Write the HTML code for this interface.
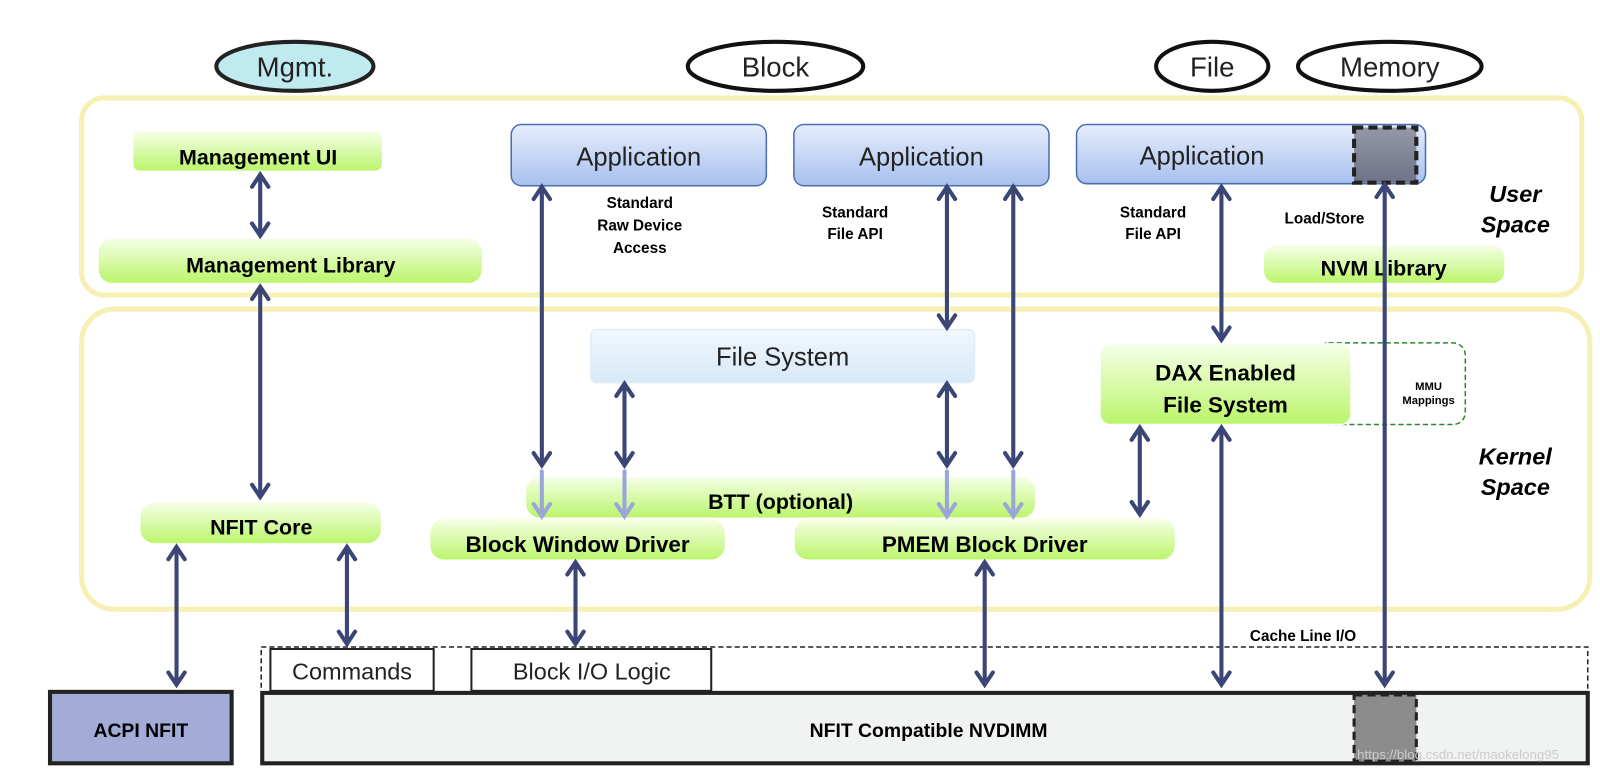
<!DOCTYPE html>
<html><head><meta charset="utf-8"><style>
html,body{margin:0;padding:0;background:#fff;width:1600px;height:773px;overflow:hidden}
svg{display:block}
text{font-family:"Liberation Sans",sans-serif}
.b{font-weight:bold;fill:#000}
</style></head><body>
<svg width="1600" height="773" viewBox="0 0 1568 757.5" preserveAspectRatio="none" xmlns="http://www.w3.org/2000/svg">
<defs>
<linearGradient id="g" x1="0" y1="0" x2="0" y2="1"><stop offset="0" stop-color="#f6ffe8"/><stop offset="1" stop-color="#baf56a"/></linearGradient>
<linearGradient id="bl" x1="0" y1="0" x2="0" y2="1"><stop offset="0" stop-color="#e6eefc"/><stop offset="1" stop-color="#a8c0ee"/></linearGradient>
<linearGradient id="fs" x1="0" y1="0" x2="0" y2="1"><stop offset="0" stop-color="#f2f8fd"/><stop offset="1" stop-color="#d6e8f7"/></linearGradient>
<linearGradient id="dk" x1="0" y1="0" x2="0" y2="1"><stop offset="0" stop-color="#9598a6"/><stop offset="1" stop-color="#6e7388"/></linearGradient>
</defs>
<ellipse cx="289" cy="65" rx="77" ry="24" fill="#bfeaf0" stroke="#222" stroke-width="4"/>
<text x="289" y="75" font-size="27" text-anchor="middle" fill="#222">Mgmt.</text>
<ellipse cx="760" cy="65" rx="86" ry="24" fill="#fff" stroke="#111" stroke-width="4"/>
<text x="760" y="75" font-size="27" text-anchor="middle" fill="#222">Block</text>
<ellipse cx="1188" cy="65" rx="55" ry="24" fill="#fff" stroke="#111" stroke-width="4"/>
<text x="1188" y="75" font-size="27" text-anchor="middle" fill="#222">File</text>
<ellipse cx="1362" cy="65" rx="90" ry="24" fill="#fff" stroke="#111" stroke-width="4"/>
<text x="1362" y="75" font-size="27" text-anchor="middle" fill="#222">Memory</text>
<rect x="80" y="96" width="1470" height="193" rx="22" fill="none" stroke="#f7f0b4" stroke-width="5"/>
<rect x="80" y="303" width="1478" height="294" rx="32" fill="none" stroke="#f7f0b4" stroke-width="5"/>
<rect x="130" y="128" width="245" height="40" rx="7" fill="url(#g)" stroke="#fff" stroke-width="1.5"/>
<text x="253" y="161" font-size="21" text-anchor="middle" class="b">Management UI</text>
<rect x="96" y="233" width="377" height="45" rx="14" fill="url(#g)" stroke="#fff" stroke-width="1.5"/>
<text x="285" y="267" font-size="21" text-anchor="middle" class="b">Management Library</text>
<rect x="501" y="122" width="250" height="60" rx="10" fill="url(#bl)" stroke="#4a6fb0" stroke-width="1.5"/>
<text x="626" y="162" font-size="25" text-anchor="middle" fill="#222">Application</text>
<rect x="778" y="122" width="250" height="60" rx="10" fill="url(#bl)" stroke="#4a6fb0" stroke-width="1.5"/>
<text x="903" y="162" font-size="25" text-anchor="middle" fill="#222">Application</text>
<rect x="1055" y="122" width="342" height="58" rx="10" fill="url(#bl)" stroke="#4a6fb0" stroke-width="1.5"/>
<text x="1178" y="161" font-size="25" text-anchor="middle" fill="#222">Application</text>
<rect x="1327" y="125" width="61" height="54" fill="url(#dk)" stroke="#222" stroke-width="4" stroke-dasharray="9,5"/>
<rect x="1238" y="240" width="237" height="38" rx="12" fill="url(#g)" stroke="#fff" stroke-width="1.5"/>
<text x="1356" y="270" font-size="21" text-anchor="middle" class="b">NVM Library</text>
<g font-size="15" text-anchor="middle" class="b">
<text x="627" y="204">Standard</text><text x="627" y="226">Raw Device</text><text x="627" y="248">Access</text>
<text x="838" y="213">Standard</text><text x="838" y="234">File API</text>
<text x="1130" y="213">Standard</text><text x="1130" y="234">File API</text>
<text x="1298" y="219">Load/Store</text>
<text x="1277" y="628">Cache Line I/O</text>
</g>
<g font-size="23" font-style="italic" text-anchor="middle" class="b">
<text x="1485" y="198">User</text><text x="1485" y="228">Space</text>
<text x="1485" y="455">Kernel</text><text x="1485" y="485">Space</text>
</g>
<rect x="579" y="323" width="376" height="52" rx="6" fill="url(#fs)" stroke="#e0ecf6" stroke-width="1.5"/>
<text x="767" y="358" font-size="25" text-anchor="middle" fill="#222">File System</text>
<rect x="1290" y="336" width="146" height="80" rx="12" fill="none" stroke="#2a8a2a" stroke-width="1.5" stroke-dasharray="5,3"/>
<rect x="1078" y="337" width="246" height="79" rx="10" fill="url(#g)" stroke="#fff" stroke-width="1.5"/>
<text x="1201" y="373" font-size="22" text-anchor="middle" class="b">DAX Enabled</text>
<text x="1201" y="404" font-size="22" text-anchor="middle" class="b">File System</text>
<text x="1400" y="382" font-size="11" text-anchor="middle" class="b">MMU</text>
<text x="1400" y="396" font-size="11" text-anchor="middle" class="b">Mappings</text>
<rect x="515" y="467" width="500" height="41" rx="14" fill="url(#g)" stroke="#fff" stroke-width="1.5"/>
<text x="765" y="499" font-size="21" text-anchor="middle" class="b">BTT (optional)</text>
<rect x="137" y="492" width="237" height="41" rx="14" fill="url(#g)" stroke="#fff" stroke-width="1.5"/>
<text x="256" y="524" font-size="21" text-anchor="middle" class="b">NFIT Core</text>
<rect x="421" y="508" width="290" height="41" rx="14" fill="url(#g)" stroke="#fff" stroke-width="1.5"/>
<text x="566" y="541" font-size="22" text-anchor="middle" class="b">Block Window Driver</text>
<rect x="778" y="508" width="374" height="41" rx="14" fill="url(#g)" stroke="#fff" stroke-width="1.5"/>
<text x="965" y="541" font-size="22" text-anchor="middle" class="b">PMEM Block Driver</text>
<rect x="256" y="634" width="1300" height="44" fill="none" stroke="#222" stroke-width="1.5" stroke-dasharray="5,3"/>
<rect x="265" y="636" width="160" height="41" fill="#fff" stroke="#222" stroke-width="2"/>
<text x="345" y="666" font-size="23" text-anchor="middle" fill="#222">Commands</text>
<rect x="462" y="636" width="235" height="41" fill="#fff" stroke="#222" stroke-width="2"/>
<text x="580" y="666" font-size="23" text-anchor="middle" fill="#222">Block I/O Logic</text>
<rect x="49" y="678" width="178" height="70" fill="#a3acd6" stroke="#222" stroke-width="4"/>
<text x="138" y="722" font-size="19" text-anchor="middle" class="b">ACPI NFIT</text>
<rect x="257" y="679" width="1299" height="69" fill="#f0f3f2" stroke="#222" stroke-width="4"/>
<rect x="1327" y="681" width="61" height="65" fill="#8c8c8c" stroke="#222" stroke-width="3" stroke-dasharray="8,5"/>
<text x="910" y="722" font-size="19" text-anchor="middle" class="b">NFIT Compatible NVDIMM</text>
<text x="1330" y="744" font-size="13" fill="#ccc">https://blog.csdn.net/maokelong95</text>
<g stroke="#3b4677" stroke-width="4" fill="none" stroke-linecap="round">
<path d="M255 172V230M247 183L255 171L263 183M247 219L255 231L263 219"/>
<path d="M255 282V486M247 293L255 281L263 293M247 475L255 487L263 475"/>
<path d="M531 184V455M523 195L531 183L539 195M523 444L531 456L539 444"/>
<path d="M612 377V455M604 388L612 376L620 388M604 444L612 456L620 444"/>
<path d="M928 184V320M920 195L928 183L936 195M920 309L928 321L936 309"/>
<path d="M928 377V455M920 388L928 376L936 388M920 444L928 456L936 444"/>
<path d="M993 184V455M985 195L993 183L1001 195M985 444L993 456L1001 444"/>
<path d="M1117 420V503M1109 431L1117 419L1125 431M1109 492L1117 504L1125 492"/>
<path d="M1197 184V332M1189 195L1197 183L1205 195M1189 321L1197 333L1205 321"/>
<path d="M1197 420V670M1189 431L1197 419L1205 431M1189 659L1197 671L1205 659"/>
<path d="M1357 182V670M1349 193L1357 181L1365 193M1349 659L1357 671L1365 659"/>
<path d="M173 537V670M165 548L173 536L181 548M165 659L173 671L181 659"/>
<path d="M340 537V630M332 548L340 536L348 548M332 619L340 631L348 619"/>
<path d="M564 552V630M556 563L564 551L572 563M556 619L564 631L572 619"/>
<path d="M965 552V670M957 563L965 551L973 563M957 659L965 671L973 659"/>
</g>
<g stroke="#9aa6d8" stroke-width="4" fill="none" stroke-linecap="round">
<path d="M531 462V505M523 494L531 506L539 494"/>
<path d="M612 462V505M604 494L612 506L620 494"/>
<path d="M928 462V505M920 494L928 506L936 494"/>
<path d="M993 462V505M985 494L993 506L1001 494"/>
</g>
</svg>
</body></html>
